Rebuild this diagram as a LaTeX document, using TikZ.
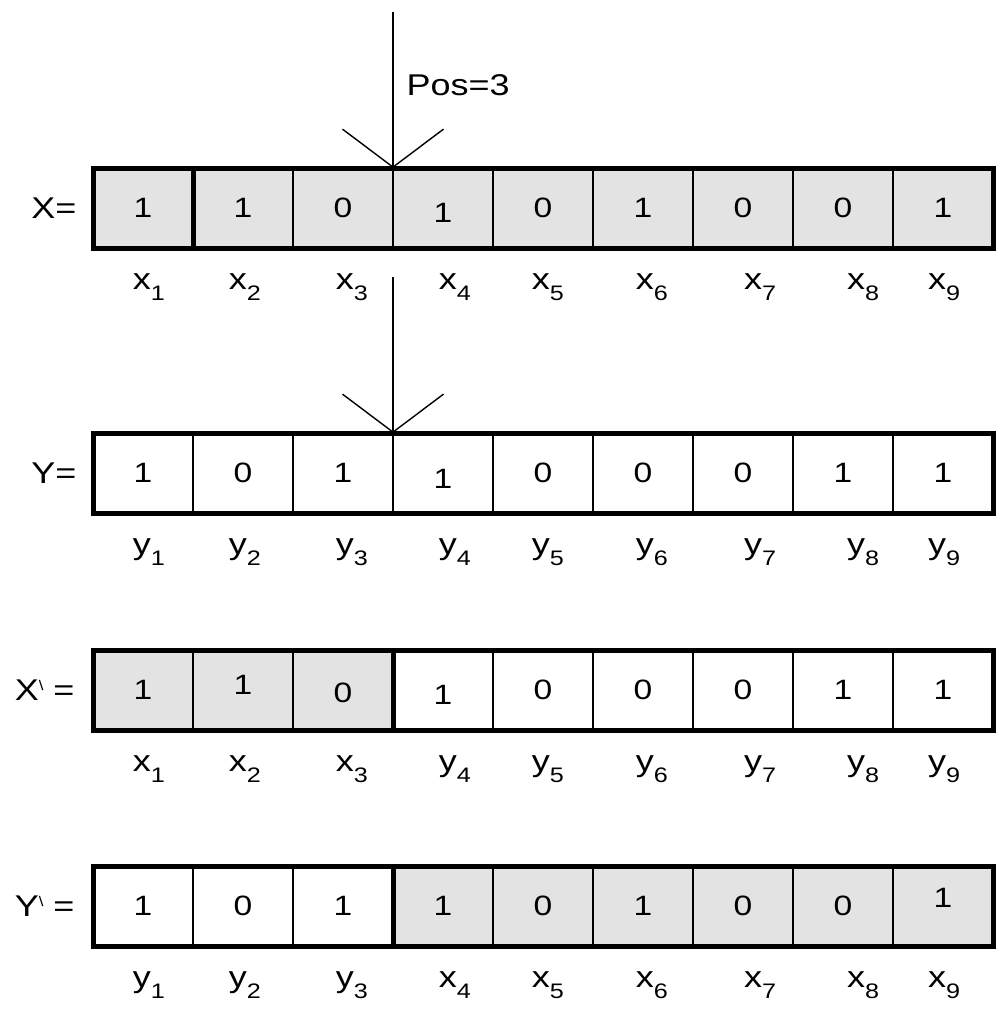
\documentclass[tikz,border=0pt]{standalone}
\usepackage{fontspec}
\setmainfont{Liberation Sans}[FakeStretch=1.2]
\usetikzlibrary{arrows.meta}
\definecolor{cellgray}{RGB}{227,227,227}
\newcommand{\cw}{100}
\newcommand{\lblshift}{79}
\newcommand{\idxtext}[2]{#1\raisebox{-11pt}{\fontsize{21}{21}\selectfont #2}}
\newcommand{\primetext}[1]{#1\raisebox{10pt}{\fontsize{14}{14}\selectfont\textbackslash}\ =}
% name, column, row middle, fill, bit, bit shift, index letter, index x
\newcommand{\bitcell}[8]{\node[cell, fill=#4] (#1) at (#2*\cw+43, #3) {};
  \node[bit] (#1b) at ([yshift=#6]#1.center) {#5};
  \node[idx] (#1l) at (#8, #3+\lblshift) {\idxtext{#7}{#2}};}

\begin{document}
\begin{tikzpicture}[x=1pt, y=-1pt,
    cell/.style={draw, line width=1.6pt, minimum width=100pt, minimum height=80pt, inner sep=0pt, outer sep=0pt},
    bit/.style={font=\fontsize{28}{30}\selectfont},
    idx/.style={font=\fontsize{30}{32}\selectfont},
    rowname/.style={font=\fontsize{30}{32}\selectfont, anchor=east},
    heavy/.style={line width=5pt},
    cut/.style={line width=1.4pt, -{Straight Barb[length=38pt, width=101pt]}}]
    \useasboundingbox (0,0) rectangle (1005,1031);

    % X
    \bitcell{xa1}{1}{208}{cellgray}{1}{0pt}{x}{149}
    \bitcell{xa2}{2}{208}{cellgray}{1}{0pt}{x}{245}
    \bitcell{xa3}{3}{208}{cellgray}{0}{0pt}{x}{352}
    \bitcell{xa4}{4}{208}{cellgray}{1}{-5pt}{x}{455}
    \bitcell{xa5}{5}{208}{cellgray}{0}{0pt}{x}{548}
    \bitcell{xa6}{6}{208}{cellgray}{1}{0pt}{x}{652}
    \bitcell{xa7}{7}{208}{cellgray}{0}{0pt}{x}{760}
    \bitcell{xa8}{8}{208}{cellgray}{0}{0pt}{x}{863}
    \bitcell{xa9}{9}{208}{cellgray}{1}{0pt}{x}{944}
    \draw[heavy] (xa1.north west) rectangle (xa9.south east);
    \draw[heavy] (xa2.north west) -- (xa2.south west);
    \node[rowname] (xname) at (80,208) {X=};

    % Y
    \bitcell{ya1}{1}{473}{white}{1}{0pt}{y}{149}
    \bitcell{ya2}{2}{473}{white}{0}{0pt}{y}{245}
    \bitcell{ya3}{3}{473}{white}{1}{0pt}{y}{352}
    \bitcell{ya4}{4}{473}{white}{1}{-6pt}{y}{455}
    \bitcell{ya5}{5}{473}{white}{0}{0pt}{y}{548}
    \bitcell{ya6}{6}{473}{white}{0}{0pt}{y}{652}
    \bitcell{ya7}{7}{473}{white}{0}{0pt}{y}{760}
    \bitcell{ya8}{8}{473}{white}{1}{0pt}{y}{863}
    \bitcell{ya9}{9}{473}{white}{1}{0pt}{y}{944}
    \draw[heavy] (ya1.north west) rectangle (ya9.south east);
    \node[rowname] (yname) at (80,473) {Y=};

    % X'
    \bitcell{xb1}{1}{690}{cellgray}{1}{0pt}{x}{149}
    \bitcell{xb2}{2}{690}{cellgray}{1}{5pt}{x}{245}
    \bitcell{xb3}{3}{690}{cellgray}{0}{-3pt}{x}{352}
    \bitcell{xb4}{4}{690}{white}{1}{-5pt}{y}{455}
    \bitcell{xb5}{5}{690}{white}{0}{0pt}{y}{548}
    \bitcell{xb6}{6}{690}{white}{0}{0pt}{y}{652}
    \bitcell{xb7}{7}{690}{white}{0}{0pt}{y}{760}
    \bitcell{xb8}{8}{690}{white}{1}{0pt}{y}{863}
    \bitcell{xb9}{9}{690}{white}{1}{0pt}{y}{944}
    \draw[heavy] (xb1.north west) rectangle (xb9.south east);
    \draw[heavy] (xb4.north west) -- (xb4.south west);
    \node[rowname] (xbname) at (78,690) {\primetext{X}};

    % Y'
    \bitcell{yb1}{1}{906}{white}{1}{0pt}{y}{149}
    \bitcell{yb2}{2}{906}{white}{0}{0pt}{y}{245}
    \bitcell{yb3}{3}{906}{white}{1}{0pt}{y}{352}
    \bitcell{yb4}{4}{906}{cellgray}{1}{0pt}{x}{455}
    \bitcell{yb5}{5}{906}{cellgray}{0}{0pt}{x}{548}
    \bitcell{yb6}{6}{906}{cellgray}{1}{0pt}{x}{652}
    \bitcell{yb7}{7}{906}{cellgray}{0}{0pt}{x}{760}
    \bitcell{yb8}{8}{906}{cellgray}{0}{0pt}{x}{863}
    \bitcell{yb9}{9}{906}{cellgray}{1}{8pt}{x}{944}
    \draw[heavy] (yb1.north west) rectangle (yb9.south east);
    \draw[heavy] (yb4.north west) -- (yb4.south west);
    \node[rowname] (ybname) at (78,906) {\primetext{Y}};

    % crossover point
    \coordinate (cuttop) at (393,12);
    \coordinate (cutmid) at (393,277);
    \draw[cut] (cuttop) -- (xa4.north west);
    \draw[cut] (cutmid) -- (ya4.north west);
    \node[idx, anchor=west] (pos) at (403,85) {Pos=3};
\end{tikzpicture}
\end{document}
